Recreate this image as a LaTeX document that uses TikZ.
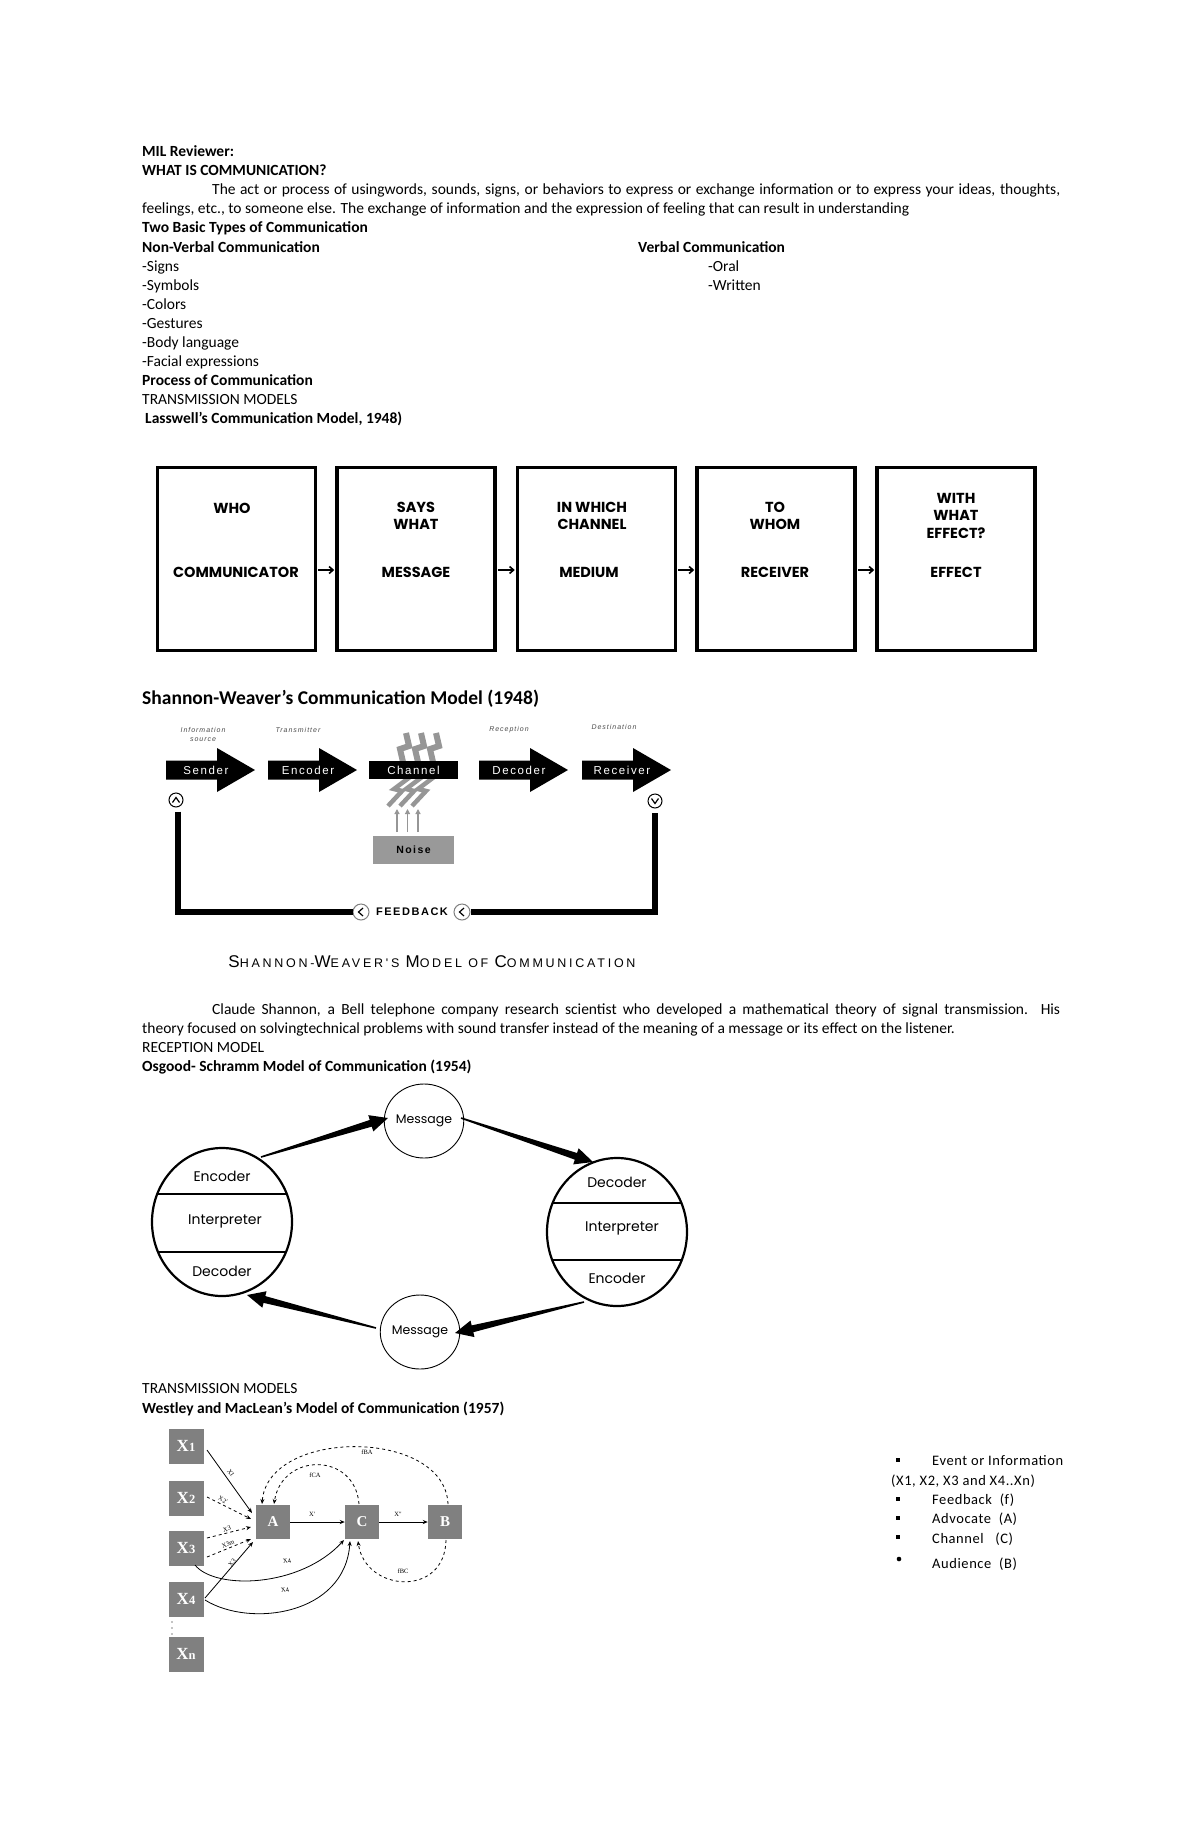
\documentclass[tikz,border=0pt]{standalone}
\usepackage{fontspec}
\setmainfont{Carlito}
\newfontfamily\gothic{Poppins}
\newfontfamily\spaced[LetterSpace=14]{Liberation Sans}
\newfontfamily\capfont[LetterSpace=22]{Liberation Sans}
\newfontfamily\serif{Liberation Serif}
\newfontfamily\legfont[LetterSpace=4]{Carlito}
\usetikzlibrary{calc, shapes.geometric, arrows.meta}

\definecolor{boxgray}{RGB}{128,128,128}
\definecolor{boltgray}{RGB}{150,150,150}

% block arrow of the Shannon-Weaver row
\newcommand{\sarrow}[3]{%
  \fill (#2,760.5) -- ++(51,0) -- ++(0,-12.5) -- ++(38,22) -- ++(-38,22)
    -- ++(0,-12.5) -- ++(-51,0) -- cycle;
  \node[swlab] (#1) at (#2+40,770.5) {#3};}
% tapered arrow of the Osgood-Schramm circle
\newcommand{\taper}[2]{%
  \coordinate (tb) at ($(#2)!18pt!(#1)$);
  \fill ($(#1)!0.8pt!90:(#2)$) -- ($(tb)!3.5pt!90:(#2)$) -- ($(tb)!8.5pt!90:(#2)$)
    -- (#2) -- ($(tb)!8.5pt!-90:(#2)$) -- ($(tb)!3.5pt!-90:(#2)$)
    -- ($(#1)!0.8pt!-90:(#2)$) -- cycle;}
\newcommand{\bigc}[1]{{\fontsize{17}{18}\selectfont #1}}
\newcommand{\xlab}[1]{{\fontsize{17}{17}\selectfont X}{\fontsize{12.5}{12.5}\selectfont #1}}

\begin{document}
\begin{tikzpicture}[x=1pt, y=-1pt,
  txt/.style={anchor=base west, inner sep=0pt, font=\fontsize{15.5}{19}\selectfont},
  hd/.style={txt, font=\fontsize{15.5}{19}\selectfont\bfseries},
  lbox/.style={draw, line width=3.5pt, minimum width=158pt, minimum height=183pt, inner sep=0pt},
  ltext/.style={font=\gothic\bfseries\fontsize{14.5}{17.5}\selectfont, align=center, inner sep=0pt},
  larr/.style={line width=1.6pt, -{Straight Barb[length=4pt,width=7pt]}},
  swlab/.style={text=white, inner sep=0pt, font=\spaced\fontsize{11.5}{12}\selectfont},
  swtop/.style={text=black!70, inner sep=0pt, align=center, font=\spaced\itshape\fontsize{7}{8.5}\selectfont},
  chev/.style={draw, circle, line width=1pt, minimum size=14pt, inner sep=0pt},
  fback/.style={line width=6pt},
  oell/.style={draw, ellipse, line width=2.2pt, minimum width=140pt, minimum height=148pt, inner sep=0pt},
  omsg/.style={draw, ellipse, line width=0.9pt, minimum width=70pt, minimum height=74pt, inner sep=0pt,
    font=\gothic\fontsize{12.5}{13}\selectfont},
  otext/.style={inner sep=0pt, font=\gothic\fontsize{14}{14}\selectfont},
  wbox/.style={fill=boxgray, text=white, minimum size=35pt, inner sep=0pt, font=\serif\bfseries},
  wabc/.style={fill=boxgray, text=white, minimum size=34pt, inner sep=0pt, font=\serif\bfseries\fontsize{15}{15}\selectfont},
  warr/.style={line width=0.8pt, -{Stealth[length=5pt,width=4pt]}},
  wlab/.style={inner sep=0pt, font=\serif\fontsize{6.5}{7}\selectfont},
  leg/.style={anchor=base west, inner sep=0pt, font=\legfont\fontsize{14.5}{17}\selectfont}]

  \useasboundingbox (0,0) rectangle (1200,1835);
  \fill[white] (0,0) rectangle (1200,1835);

  % opening text
  \node[hd] (mil) at (142,157) {MIL Reviewer:};
  \node[hd] (what) at (142,176) {WHAT IS COMMUNICATION?};
  \node[txt] (def1) at (212,195) {\makebox[848pt][s]{The act or process of usingwords, sounds, signs, or behaviors to express or exchange information or to express your ideas, thoughts,}};
  \node[txt] (def2) at (142,214) {feelings, etc., to someone else. The exchange of information and the expression of feeling that can result in understanding};
  \node[hd] (types) at (142,233) {Two Basic Types of Communication};
  \node[hd] (nonverbal) at (142,252) {Non-Verbal Communication};
  \node[hd] (verbal) at (638,252) {Verbal Communication};
  \node[txt] (signs) at (142,271) {-Signs};
  \node[txt] (symbols) at (142,290) {-Symbols};
  \node[txt] (colors) at (142,309) {-Colors};
  \node[txt] (gestures) at (142,328) {-Gestures};
  \node[txt] (body) at (142,347) {-Body language};
  \node[txt] (facial) at (142,366) {-Facial expressions};
  \node[txt] (oral) at (708,271) {-Oral};
  \node[txt] (written) at (708,290) {-Written};
  \node[hd] (process) at (142,385) {Process of Communication};
  \node[txt] (trans1) at (142,404) {TRANSMISSION MODELS};
  \node[hd] (lasswell) at (145,423) {Lasswell's Communication Model, 1948)};

  % Lasswell boxes
  \foreach \i/\x in {1/236.5, 2/416, 3/596.5, 4/776, 5/956}
    \node[lbox] (l\i) at (\x,559) {};
  \node[ltext] (who) at (232,508) {WHO};
  \node[ltext] (says) at (416,516) {SAYS\\WHAT};
  \node[ltext] (which) at (592,516) {IN WHICH\\CHANNEL};
  \node[ltext] (whom) at (775,516) {TO\\WHOM};
  \node[ltext] (effq) at (956,515.5) {WITH\\WHAT\\EFFECT?};
  \node[ltext] (communicator) at (236,572) {COMMUNICATOR};
  \node[ltext] (message) at (416,572) {MESSAGE};
  \node[ltext] (medium) at (589,572) {MEDIUM};
  \node[ltext] (receiver) at (775,572) {RECEIVER};
  \node[ltext] (effect) at (956,572) {EFFECT};
  \foreach \i/\j in {1/2, 2/3, 3/4, 4/5}
    \draw[larr] ($(l\i.east)+(1,11)$) -- ($(l\j.west)+(-1,11)$);

  % Shannon-Weaver
  \node[anchor=base west, inner sep=0pt, font=\fontsize{19.5}{21}\selectfont\bfseries] (swtitle) at (142,704)
    {Shannon-Weaver’s Communication Model (1948)};
  \node[swtop] (infosrc) at (203,734.5) {Information\\source};
  \node[swtop] (transm) at (298,730) {Transmitter};
  \node[swtop] (recept) at (509,730) {Reception};
  \node[swtop] (dest) at (614,727) {Destination};

  \foreach \i in {0,1,2} {
    \draw[boltgray, line width=6pt] (403+15*\i,762) -- (400+15*\i,749) -- (409+15*\i,746) -- (406+15*\i,733);
    \draw[boltgray, line width=4.5pt] (410+12*\i,777) -- (394+12*\i,789) -- (402+12*\i,791) -- (388+12*\i,806);
    \draw[boltgray, line width=1.5pt, -{Triangle[length=5pt,width=5pt]}] (397+10.5*\i,832) -- (397+10.5*\i,809);
  }

  \sarrow{sender}{166}{Sender}
  \sarrow{encoder}{268}{Encoder}
  \fill (369,761) rectangle (458,779);
  \node[swlab] (channel) at (413.5,770) {Channel};
  \sarrow{decoder}{479}{Decoder}
  \sarrow{receiver}{582}{Receiver}

  \node[fill=boxgray!80, minimum width=81pt, minimum height=28pt, inner sep=0pt,
    font=\spaced\bfseries\fontsize{10.5}{11}\selectfont] (noise) at (413.5,850) {Noise};

  \node[chev] (up) at (176,800) {};
  \draw[line width=1.2pt] (172.5,802.5) -- (176,797.5) -- (179.5,802.5);
  \node[chev] (down) at (655,801) {};
  \draw[line width=1.2pt] (651.5,798.5) -- (655,803.5) -- (658.5,798.5);

  \node[inner sep=0pt, font=\spaced\bfseries\fontsize{11}{11}\selectfont] (feedback) at (412,912) {FEEDBACK};
  \node[chev, draw=black!50, minimum size=16pt] (fb1) at (361,912) {};
  \node[chev, draw=black!50, minimum size=16pt] (fb2) at (462,912) {};
  \foreach \x in {361,462}
    \draw[line width=1.2pt] (\x+2,908) -- (\x-2.5,912) -- (\x+2,916);
  \draw[fback] (up.south) ++(2,4) |- (fb1.west);
  \draw[fback] (fb2.east) -| ($(down.south)+(0,4)$);

  \node[anchor=base, inner sep=0pt, font=\capfont\fontsize{12.5}{13}\selectfont] (swcaption) at (432,967)
    {\bigc{S}HANNON-\bigc{W}EAVER'S \bigc{M}ODEL OF \bigc{C}OMMUNICATION};

  % Shannon text and Osgood-Schramm
  \node[txt] (claude1) at (212,1014) {\makebox[848pt][s]{Claude Shannon, a Bell telephone company research scientist who developed a mathematical theory of signal transmission. His}};
  \node[txt] (claude2) at (142,1033) {theory focused on solvingtechnical problems with sound transfer instead of the meaning of a message or its effect on the listener.};
  \node[txt] (reception) at (142,1052) {RECEPTION MODEL};
  \node[hd] (osgood) at (142,1071) {Osgood- Schramm Model of Communication (1954)};

  \node[oell] (left) at (222,1222) {};
  \node[oell] (right) at (617,1232) {};
  \begin{scope}
    \clip (222,1222) ellipse [x radius=70, y radius=74];
    \draw[line width=2.4pt] (140,1194) -- (300,1194) (140,1252) -- (300,1252);
  \end{scope}
  \begin{scope}
    \clip (617,1232) ellipse [x radius=70, y radius=74];
    \draw[line width=2.4pt] (540,1203) -- (700,1203) (540,1260) -- (700,1260);
  \end{scope}
  \node[otext] (lenc) at (222,1176) {Encoder};
  \node[otext] (lint) at (225,1221) {Interpreter};
  \node[otext] (ldec) at (222,1271) {Decoder};
  \node[otext] (rdec) at (617,1182) {Decoder};
  \node[otext] (rint) at (622,1228) {Interpreter};
  \node[otext] (renc) at (617,1278) {Encoder};

  \node[omsg] (msgtop) at (424,1121) {Message};
  \node[omsg] (msgbot) at (420,1332) {Message};

  \taper{261,1157}{388,1118}
  \taper{461,1118}{593,1162}
  \taper{584,1302}{455,1333}
  \taper{376,1328}{247,1295}

  % Westley and MacLean
  \node[txt] (trans2) at (142,1393) {TRANSMISSION MODELS};
  \node[hd] (westley) at (142,1413) {Westley and MacLean’s Model of Communication (1957)};

  \node[wbox] (x1) at (186,1446) {\xlab{1}};
  \node[wbox] (x2) at (186,1498) {\xlab{2}};
  \node[wbox] (x3) at (186,1548) {\xlab{3}};
  \node[wbox] (x4) at (186,1599) {\xlab{4}};
  \node[wbox] (xn) at (186,1654) {\xlab{n}};
  \foreach \y in {1622,1628,1634}
    \fill (172,\y) circle (0.6);

  \node[wabc] (A) at (273,1522) {A};
  \node[wabc] (C) at (362,1522) {C};
  \node[wabc] (B) at (445,1522) {B};

  \draw[warr] (207,1450) -- (252,1513);
  \draw[warr, dashed] (207,1497) -- (251,1519);
  \draw[warr, dashed] (207,1538) -- (251,1527);
  \draw[warr, dashed] (207,1557) -- (251,1539);
  \draw[warr] (205,1598) -- (253,1542);
  \draw[warr] (195,1565) .. controls (215,1590) and (300,1588) .. (344,1540);
  \draw[warr] (205,1600) .. controls (250,1628) and (345,1615) .. (350,1541);
  \draw[warr] (A) -- (C);
  \draw[warr] (C) -- (B);
  \draw[warr, dashed] (448,1504) .. controls (445,1428) and (268,1428) .. (262,1504);
  \draw[warr, dashed] (359,1504) .. controls (355,1452) and (282,1452) .. (274,1504);
  \draw[warr, dashed] (446,1540) .. controls (445,1598) and (365,1592) .. (358,1541);

  \node[wlab, rotate=-54] (lx1) at (231,1473) {X1};
  \node[wlab, rotate=-26] (lx2) at (223,1500) {X2'};
  \node[wlab, rotate=14] (lx3) at (227,1529) {X3};
  \node[wlab, rotate=22] (lx3m) at (228,1544) {X3m};
  \node[wlab, rotate=50] (lx3b) at (232,1563) {X3};
  \node[wlab, rotate=10] (lx4a) at (287,1561) {X4};
  \node[wlab, rotate=10] (lx4b) at (285,1590) {X4};
  \node[wlab] (lxp) at (312,1514) {X'};
  \node[wlab] (lxpp) at (398,1514) {X''};
  \node[wlab] (lfba) at (367,1452) {fBA};
  \node[wlab] (lfca) at (315,1475) {fCA};
  \node[wlab] (lfbc) at (403,1571) {fBC};

  % legend
  \foreach \y in {1460,1499,1518,1537}
    \fill (896,\y-2) rectangle (900,\y+2);
  \fill (899,1559) circle (2.3);
  \node[leg] (lev) at (932,1465) {Event or Information};
  \node[leg] (lxs) at (891,1485) {(X1, X2, X3 and X4..Xn)};
  \node[leg] (lfb) at (932,1504) {Feedback\ \ (f)};
  \node[leg] (lad) at (932,1523) {Advocate\ \ (A)};
  \node[leg] (lch) at (932,1543) {Channel\ \ \ (C)};
  \node[leg] (lau) at (932,1568) {Audience\ \ (B)};
\end{tikzpicture}
\end{document}
